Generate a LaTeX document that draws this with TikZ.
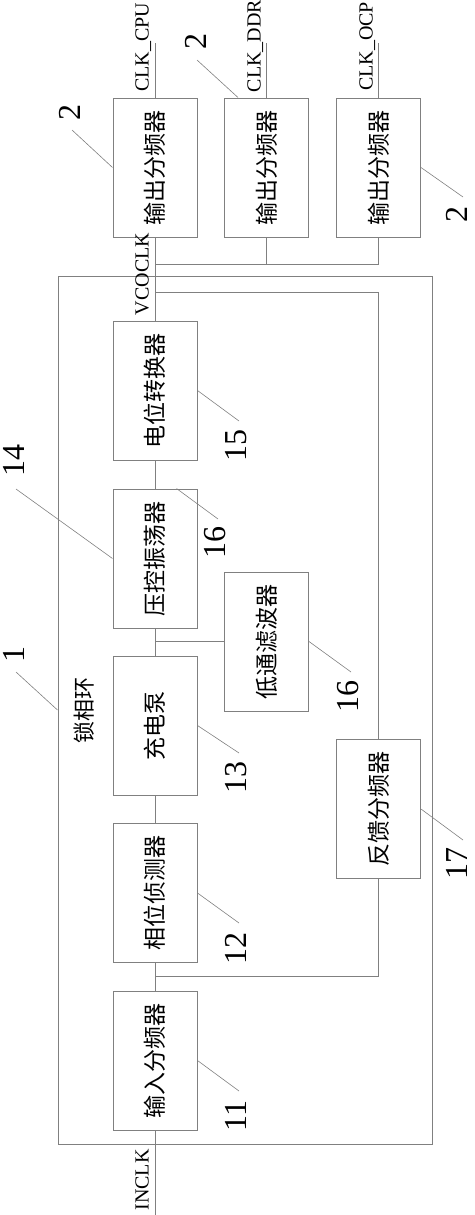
\documentclass[tikz,border=0pt]{standalone}
\usepackage{fontspec}
\usepackage{graphicx}
\setmainfont{Liberation Serif}
\newfontfamily\cjk{Noto Sans CJK SC}
\usetikzlibrary{calc}
\definecolor{ln0}{RGB/HTML}{128,128,128/808080}

\newcommand{\vtext}[1]{\rotatebox{90}{\cjk #1}}

\begin{document}
\begin{tikzpicture}[x=1pt, y=-1pt, every node/.style={inner sep=0pt},
    wire/.style={draw=ln0, line width=1pt},
    lead/.style={draw=ln0, line width=0.6pt},
    block/.style={wire, minimum width=84pt, minimum height=139pt, font=\fontsize{23}{25}\selectfont},
    ref/.style={rotate=90, font=\fontsize{32}{34}\selectfont},
    sig/.style={rotate=90, anchor=base, font=\fontsize{20}{22}\selectfont}]
    \useasboundingbox (0,0) rectangle (474,1215);

    \node[wire, minimum width=374pt, minimum height=868pt] (pll) at (245,710) {};
    \node[rotate=90, font=\fontsize{22}{24}\selectfont] (lpll) at (84,710) {\cjk 锁相环};

    \node[block] (out1) at (155,167.5) {\vtext{输出分频器}};
    \node[block] (out2) at (266.5,167.5) {\vtext{输出分频器}};
    \node[block] (out3) at (378.5,167.5) {\vtext{输出分频器}};
    \node[block] (lvl) at (155,390.5) {\vtext{电位转换器}};
    \node[block] (vco) at (155,558.5) {\vtext{压控振荡器}};
    \node[block] (lpf) at (266.5,641.5) {\vtext{低通滤波器}};
    \node[block] (cp) at (155,725.5) {\vtext{充电泵}};
    \node[block] (pd) at (155,893) {\vtext{相位侦测器}};
    \node[block] (indiv) at (155,1060.5) {\vtext{输入分频器}};
    \node[block] (fb) at (378.5,809) {\vtext{反馈分频器}};

    \coordinate (inclk) at (155,1215);
    \coordinate (cpu) at (155,43);
    \coordinate (ddr) at (266.5,43);
    \coordinate (ocp) at (378.5,43);
    \coordinate (jbus) at (155,264);
    \coordinate (jfb) at (155,292);
    \coordinate (jin) at ($(indiv.north)!.5!(pd.south)$);

    \draw[wire] (inclk) -- (indiv.south);
    \draw[wire] (indiv.north) -- (pd.south);
    \draw[wire] (pd.north) -- (cp.south);
    \draw[wire] (cp.north) -- (vco.south);
    \draw[wire] (vco.north) -- (lvl.south);
    \draw[wire] (lvl.north) -- (out1.south);
    \draw[wire] (lpf.west) -- (lpf.west -| vco.south);
    \draw[wire] (jin) -| (fb.south);
    \draw[wire] (jfb) -| (fb.north);
    \draw[wire] (jbus) -| (out3.south);
    \draw[wire] (out2.south) -- (out2.south |- jbus);
    \draw[wire] (out1.north) -- (cpu);
    \draw[wire] (out2.north) -- (ddr);
    \draw[wire] (out3.north) -- (ocp);

    \node[sig] (lcpu) at (148.5,47.5) {CLK\_CPU};
    \node[sig] (lddr) at (260.5,46) {CLK\_DDR};
    \node[sig] (locp) at (372.5,46.5) {CLK\_OCP};
    \node[sig] (lvco) at (148.5,274) {VCOCLK};
    \node[sig] (lin) at (148.5,1180) {INCLK};

    \node[ref] (r2a) at (70,112) {2};
    \node[ref] (r2b) at (196,42) {2};
    \node[ref] (r2c) at (457,214) {2};
    \node[ref] (r14) at (14,460) {14};
    \node[ref] (r15) at (236,445) {15};
    \node[ref] (r16a) at (215,542) {16};
    \node[ref] (r1) at (14,654) {1};
    \node[ref] (r16b) at (348,696) {16};
    \node[ref] (r13) at (236,777) {13};
    \node[ref] (r17) at (457,863) {17};
    \node[ref] (r12) at (236,948) {12};
    \node[ref] (r11) at (236,1116) {11};

    \coordinate (l2a) at (72,130);
    \coordinate (l2b) at (197,60);
    \coordinate (l2c) at (463,197);
    \coordinate (l14) at (16,489);
    \coordinate (l15) at (239,421);
    \coordinate (l16a) at (218,519);
    \coordinate (l1) at (16,672);
    \coordinate (l16b) at (351,672);
    \coordinate (l13) at (239,753);
    \coordinate (l17) at (463,840);
    \coordinate (l12) at (239,923);
    \coordinate (l11) at (239,1091);

    \draw[lead] (l2a) -- (out1.west);
    \draw[lead] (l2b) -- ($(out2.north west)+(14,0)$);
    \draw[lead] (l2c) -- (out3.east);
    \draw[lead] (l14) -- (vco.west);
    \draw[lead] (l15) -- (lvl.east);
    \draw[lead] (l16a) -- ($(vco.north east)+(-21,0)$);
    \draw[lead] (l1) -- (pll.west);
    \draw[lead] (l16b) -- (lpf.east);
    \draw[lead] (l13) -- (cp.east);
    \draw[lead] (l17) -- (fb.east);
    \draw[lead] (l12) -- (pd.east);
    \draw[lead] (l11) -- (indiv.east);
\end{tikzpicture}
\end{document}
